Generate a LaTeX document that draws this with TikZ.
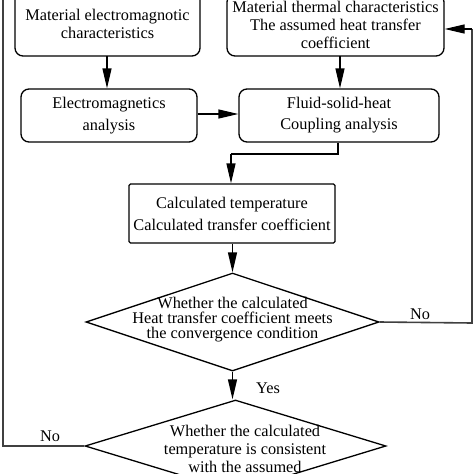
\documentclass[tikz,border=0pt]{standalone}
\usepackage{fontspec}
\setmainfont{Liberation Serif}
\usetikzlibrary{arrows.meta,shapes.geometric}
\begin{document}
\begin{tikzpicture}[x=1pt,y=-1pt,
  every node/.style={font=\fontsize{16.3}{18}\selectfont, inner sep=0pt, text=black},
  rbox/.style={draw, rounded corners=8pt, line width=1.3pt, align=center},
  sbox/.style={draw, rounded corners=1.5pt, line width=1.3pt, align=center},
  dia/.style={draw, diamond, line width=1.3pt},
  conn/.style={line width=1.3pt, -{Triangle[length=20pt,width=9pt]}},
  loopline/.style={line width=1.6pt, draw=black!75},
  lbl/.style={font=\fontsize{16.3}{18}\selectfont}
]
\useasboundingbox (0,0) rectangle (474,474);
\clip (0,0) rectangle (474,474);
\fill[white] (0,0) rectangle (474,474);

% boxes
\node[rbox, minimum width=185pt, minimum height=64pt] (b1) at (107.5,24)
  {Material electromagnotic\\characteristics};
\node[rbox, minimum width=217pt, minimum height=62pt] (b3) at (335.5,25)
  {Material thermal characteristics\\The assumed heat transfer\\coefficient};
\node[rbox, minimum width=176pt, minimum height=53pt] (b2) at (109,115.5)
  {Electromagnetics\\[4pt]analysis};
\node[rbox, minimum width=200pt, minimum height=53pt] (b4) at (339,115.5)
  {Fluid-solid-heat\\[3pt]Coupling analysis};
\node[sbox, minimum width=206pt, minimum height=59pt] (b5) at (232,213.5)
  {Calculated temperature\\[4pt]Calculated transfer coefficient};

% diamonds
\node[dia, minimum width=293pt, minimum height=98pt] (d1) at (232.5,322) {};
\node[align=center, font=\fontsize{16.3}{15}\selectfont] (t1) at (232.5,320)
  {Whether the calculated\\Heat transfer coefficient meets\\the convergence condition};
\node[dia, minimum width=301pt, minimum height=92pt] (d2) at (235.5,446) {};
\node[align=center] (t2) at (245,449)
  {Whether the calculated\\temperature is consistent\\with the assumed};

% helper coordinates
\coordinate (r1) at (472,323);
\coordinate (r2) at (472,29);
\coordinate (l1) at (3,446);
\coordinate (l2) at (3,-10);
\coordinate (k1) at (338,154);
\coordinate (k2) at (231,154);

% connectors
\draw[conn] (107,56) coordinate (a1) -- (a1 |- b2.north);
\draw[conn] (340,56) coordinate (a3) -- (a3 |- b4.north);
\draw[conn] (b2.east |- 0,114) -- (b4.west |- 0,114);
\draw[line width=1.3pt] (k1 |- b4.south) -- (k1) -- (k2);
\draw[conn] (k2) -- (k2 |- b5.north);
\draw[conn] (b5.south -| d1.north) -- (d1.north);
\draw[conn] (d1.south) -- (d2.north -| d1.south);
\draw[loopline] (d1.east) -- (r1) -- (r2);
\draw[conn] (r2) -- (b3.east |- r2);
\draw[loopline] (d2.west) -- (l1) -- (l2);

% labels
\node[lbl] (no1) at (420,314) {No};
\node[lbl] (no2) at (50,436) {No};
\node[lbl] (yes) at (268,388) {Yes};
\end{tikzpicture}
\end{document}
